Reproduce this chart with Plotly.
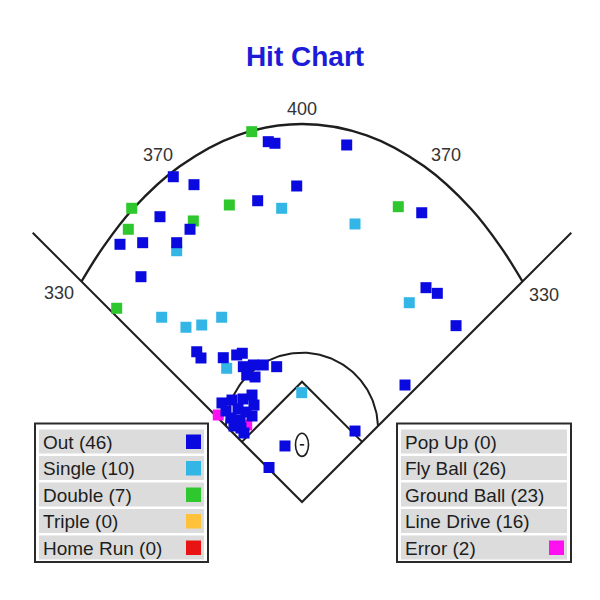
import numpy as np
import plotly.graph_objects as go

# ---------------- data (feet from home plate; x: + toward right field, y: toward center field)
out_x = [-35.7, -28.6, 47.3, -136.2, -114.3, -5.6, -46.9, 126.7, -150.3, -118.5,
         -192.6, -168.6, -132.6, -170.4, 131.2, 143.2, 163.0, 109.0, 56.1, -18.0,
         -34.9, -111.4, -106.9, -83.3, -69.1, -63.2, -62.1, -51.5, -41.0, -26.8,
         -58.5, -49.7, -84.7, -74.1, -62.4, -52.9, -50.8, -80.4, -67.7, -59.3,
         -75.1, -65.6, -52.9, -64.6, -61.4, -72.0]
out_y = [381.3, 379.6, 377.8, 344.2, 335.8, 334.4, 318.8, 306.1, 301.9, 288.6,
         272.7, 274.4, 274.4, 238.4, 226.8, 220.8, 186.6, 123.8, 75.1, 59.3,
         36.5, 159.0, 152.4, 152.7, 155.6, 157.4, 143.2, 145.0, 145.0, 143.2,
         134.4, 132.3, 104.8, 107.9, 109.0, 113.2, 102.6, 96.3, 98.4, 95.2,
         88.9, 86.8, 91.0, 78.3, 73.0, 80.4]

single_x = [-132.6, -21.5, -148.5, -122.8, -106.1, -85.0, 56.1, 113.5, -0.3, -79.7]
single_y = [265.9, 310.8, 195.5, 184.9, 187.3, 195.5, 294.2, 210.9, 115.7, 141.5]

double_x = [-53.2, -180.2, -183.8, -115.0, -76.9, -196.1, 101.9]
double_y = [391.9, 310.8, 288.6, 297.4, 314.3, 205.0, 312.5]

triple_x, triple_y = [], []
homerun_x, homerun_y = [], []

error_x = [-88.6, -58.5]
error_y = [92.1, 81.5]

result_labels = ["Out", "Single", "Double", "Triple", "Home Run"]
result_colors = ["#0a0ae0", "#33b6e6", "#2ec82e", "#ffc23a", "#e81414"]
result_xs = [out_x, single_x, double_x, triple_x, homerun_x]
result_ys = [out_y, single_y, double_y, triple_y, homerun_y]

type_labels = ["Pop Up", "Fly Ball", "Ground Ball", "Line Drive", "Error"]
type_counts = [0, 26, 23, 16, len(error_x)]
error_color = "#ff10f0"

# field dimensions (feet / degrees from the centre line, + toward right field)
wall_angles = [-45, -38, -30, -20, -10, 0, 10, 20, 30, 38, 45]
wall_dist = [330, 342, 358, 378, 394, 400, 394, 378, 358, 342, 330]
foul_line_len = 403
base_path = 90
mound_dist = 60.5
grass_center = 77.5
grass_radius = 80.5

dist_labels = ["330", "370", "400", "370", "330"]
dist_label_x = [-257, -152, 0, 152, 256]
dist_label_y = [221, 367, 416, 367, 219]

# ---------------- figure
OFF = 8            # page offset of the figure inside the browser window (px)
S = 0.945          # px per foot
HOME_PX = (302, 502)
LINE = "#1e1e1e"
FONT = "Liberation Sans, Arial, sans-serif"
fig = go.Figure()

# foul lines
d = foul_line_len / np.sqrt(2)
fig.add_trace(go.Scatter(x=[-d, 0, d], y=[d, 0, d], mode="lines",
                         line=dict(color=LINE, width=2), hoverinfo="skip", showlegend=False))
# outfield wall
th = np.radians(wall_angles)
fig.add_trace(go.Scatter(x=np.array(wall_dist) * np.sin(th), y=np.array(wall_dist) * np.cos(th),
                         mode="lines", line=dict(color=LINE, width=2.4, shape="spline", smoothing=1.0),
                         hoverinfo="skip", showlegend=False))
# infield grass arc
xi = (grass_center + np.sqrt(2 * grass_radius ** 2 - grass_center ** 2)) / 2
a0 = np.arctan2(xi - grass_center, xi)
ang = np.linspace(a0, np.pi - a0, 120)
fig.add_trace(go.Scatter(x=grass_radius * np.cos(ang), y=grass_center + grass_radius * np.sin(ang),
                         mode="lines", line=dict(color=LINE, width=2),
                         hoverinfo="skip", showlegend=False))
# diamond (upper edges)
b = base_path / np.sqrt(2)
fig.add_trace(go.Scatter(x=[b, 0, -b], y=[b, 2 * b, b], mode="lines",
                         line=dict(color=LINE, width=2), hoverinfo="skip", showlegend=False))
# pitcher's mound
fig.add_shape(type="circle", xref="x", yref="y", x0=-6.9, x1=6.9,
              y0=mound_dist - 12.2, y1=mound_dist + 12.2, line=dict(color=LINE, width=1.6))
fig.add_shape(type="line", xref="x", yref="y", x0=-2.3, x1=2.3, y0=mound_dist, y1=mound_dist,
              line=dict(color=LINE, width=1.6))

# hits
fig.add_trace(go.Scatter(x=error_x, y=error_y, mode="markers", name="Error",
                         marker=dict(symbol="square", size=11, color=error_color, line=dict(width=0)),
                         showlegend=False))
for lab, col, xs, ys in list(zip(result_labels, result_colors, result_xs, result_ys))[::-1]:
    fig.add_trace(go.Scatter(x=xs, y=ys, mode="markers", name=lab,
                             marker=dict(symbol="square", size=11, color=col, line=dict(width=0)),
                             showlegend=False))

# distance labels
for t, x, y in zip(dist_labels, dist_label_x, dist_label_y):
    fig.add_annotation(x=x, y=y, xref="x", yref="y", text=t, showarrow=False,
                       font=dict(family=FONT, size=18, color="#333333"))

# ---------------- custom legend boxes (pixel layout -> paper)
def px(v):
    return (v - OFF) / 600.0

def py(v):
    return 1 - (v - OFF) / 600.0

def legend_box(x0, x1, labels, colors):
    fig.add_shape(type="rect", xref="paper", yref="paper", x0=px(x0), x1=px(x1),
                  y0=py(562), y1=py(423.5), line=dict(color="#2a2a2a", width=2), fillcolor="white")
    for i, (lab, col) in enumerate(zip(labels, colors)):
        top = 429.5 + i * 26.5
        fig.add_shape(type="rect", xref="paper", yref="paper", x0=px(x0 + 4), x1=px(x1 - 4),
                      y0=py(top + 24), y1=py(top), line=dict(width=0), fillcolor="#dcdcdc")
        fig.add_annotation(x=px(x0 + 6), y=py(top + 12.5), xref="paper", yref="paper",
                           text=lab, showarrow=False, xanchor="left", yanchor="middle",
                           font=dict(family=FONT, size=19, color="#1e1e1e"))
        if col:
            fig.add_shape(type="rect", xref="paper", yref="paper", x0=px(x1 - 22), x1=px(x1 - 7),
                          y0=py(top + 19.5), y1=py(top + 5), line=dict(width=0), fillcolor=col)

legend_box(35, 208, [f"{l} ({len(xs)})" for l, xs in zip(result_labels, result_xs)], result_colors)
legend_box(397, 571, [f"{l} ({c})" for l, c in zip(type_labels, type_counts)],
           [None, None, None, None, error_color])

HX = (HOME_PX[0] - OFF) / S
HY = (HOME_PX[1] - OFF) / S
fig.update_layout(
    width=600, height=600, margin=dict(l=0, r=0, t=0, b=0),
    paper_bgcolor="white", plot_bgcolor="white", showlegend=False,
    title=dict(text="<b>Hit Chart</b>", x=px(305), xanchor="center",
               y=py(56), yanchor="middle", yref="container",
               font=dict(family=FONT, size=28, color="#1c1cd8")),
    xaxis=dict(range=[-HX, 600 / S - HX], visible=False, fixedrange=True),
    yaxis=dict(range=[HY - 600 / S, HY], visible=False, fixedrange=True),
)
fig.write_html("out.html", config={"displayModeBar": False})
